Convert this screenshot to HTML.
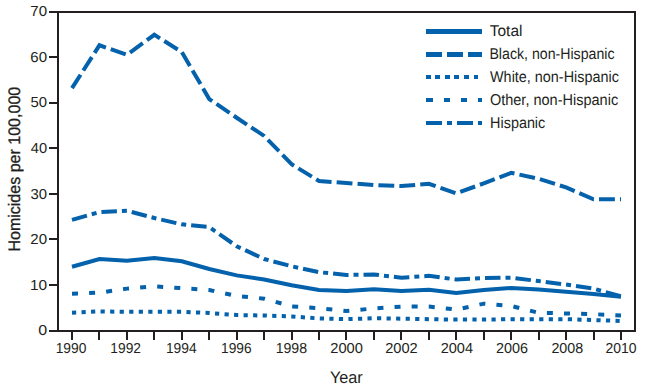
<!DOCTYPE html>
<html><head><meta charset="utf-8"><style>
html,body{margin:0;padding:0;background:#fff;}
svg{display:block;}
text{font-family:"Liberation Sans",sans-serif;fill:#231f20;text-rendering:geometricPrecision;}
</style></head><body>
<svg width="657" height="389" viewBox="0 0 657 389">
<path d="M49,12 H635 V331 H58 V12" fill="none" stroke="#231f20" stroke-width="2"/>
<path d="M49,12 H58" stroke="#231f20" stroke-width="2"/>
<path d="M49,57 H58" stroke="#231f20" stroke-width="2"/>
<path d="M49,103 H58" stroke="#231f20" stroke-width="2"/>
<path d="M49,148 H58" stroke="#231f20" stroke-width="2"/>
<path d="M49,194 H58" stroke="#231f20" stroke-width="2"/>
<path d="M49,239 H58" stroke="#231f20" stroke-width="2"/>
<path d="M49,285 H58" stroke="#231f20" stroke-width="2"/>
<path d="M49,331 H58" stroke="#231f20" stroke-width="2"/>
<path d="M72,331 V340" stroke="#231f20" stroke-width="2"/>
<path d="M99,331 V340" stroke="#231f20" stroke-width="2"/>
<path d="M127,331 V340" stroke="#231f20" stroke-width="2"/>
<path d="M154,331 V340" stroke="#231f20" stroke-width="2"/>
<path d="M182,331 V340" stroke="#231f20" stroke-width="2"/>
<path d="M209,331 V340" stroke="#231f20" stroke-width="2"/>
<path d="M237,331 V340" stroke="#231f20" stroke-width="2"/>
<path d="M264,331 V340" stroke="#231f20" stroke-width="2"/>
<path d="M292,331 V340" stroke="#231f20" stroke-width="2"/>
<path d="M319,331 V340" stroke="#231f20" stroke-width="2"/>
<path d="M346,331 V340" stroke="#231f20" stroke-width="2"/>
<path d="M374,331 V340" stroke="#231f20" stroke-width="2"/>
<path d="M401,331 V340" stroke="#231f20" stroke-width="2"/>
<path d="M429,331 V340" stroke="#231f20" stroke-width="2"/>
<path d="M456,331 V340" stroke="#231f20" stroke-width="2"/>
<path d="M484,331 V340" stroke="#231f20" stroke-width="2"/>
<path d="M511,331 V340" stroke="#231f20" stroke-width="2"/>
<path d="M539,331 V340" stroke="#231f20" stroke-width="2"/>
<path d="M566,331 V340" stroke="#231f20" stroke-width="2"/>
<path d="M594,331 V340" stroke="#231f20" stroke-width="2"/>
<path d="M621,331 V340" stroke="#231f20" stroke-width="2"/>
<polyline points="72.00,88.10 99.45,45.27 126.90,54.84 154.35,34.79 181.80,52.10 209.25,99.04 236.70,117.73 264.15,135.95 291.60,164.21 319.05,181.07 346.50,182.89 373.95,185.17 401.40,186.08 428.85,183.80 456.30,193.37 483.75,183.35 511.20,172.87 538.65,178.79 566.10,187.45 593.55,199.30 621.00,199.30" fill="none" stroke="#0461ab" stroke-width="4.0" stroke-dasharray="15.85 5.1"/>
<polyline points="72.00,219.81 99.45,212.06 126.90,210.69 154.35,217.98 181.80,224.36 209.25,227.10 236.70,246.24 264.15,259.00 291.60,266.29 319.05,272.21 346.50,274.95 373.95,274.49 401.40,277.68 428.85,275.86 456.30,279.50 483.75,278.14 511.20,277.68 538.65,281.10 566.10,284.52 593.55,288.62 621.00,296.37" fill="none" stroke="#0461ab" stroke-width="4.0" stroke-dasharray="15.5 5 5 5"/>
<polyline points="72.00,266.74 99.45,259.00 126.90,260.82 154.35,258.09 181.80,261.28 209.25,269.02 236.70,275.40 264.15,279.50 291.60,285.20 319.05,289.99 346.50,291.12 373.95,289.30 401.40,291.12 428.85,289.76 456.30,292.95 483.75,289.99 511.20,287.94 538.65,289.53 566.10,291.81 593.55,294.09 621.00,296.82" fill="none" stroke="#0461ab" stroke-width="4.0"/>
<polyline points="72.00,293.63 99.45,292.72 126.90,288.62 154.35,286.34 181.80,288.16 209.25,289.99 236.70,295.91 264.15,298.64 291.60,306.39 319.05,308.21 346.50,310.95 373.95,308.44 401.40,306.62 428.85,306.62 456.30,309.58 483.75,303.66 511.20,305.94 538.65,312.77 566.10,313.45 593.55,314.14 621.00,315.51" fill="none" stroke="#0461ab" stroke-width="4.0" stroke-dasharray="6 11.12"/>
<polyline points="72.00,312.77 99.45,311.40 126.90,311.86 154.35,311.86 181.80,311.86 209.25,313.00 236.70,315.05 264.15,315.51 291.60,316.42 319.05,318.47 346.50,319.15 373.95,318.24 401.40,318.70 428.85,319.15 456.30,319.61 483.75,319.61 511.20,319.15 538.65,319.15 566.10,319.15 593.55,320.06 621.00,320.97" fill="none" stroke="#0461ab" stroke-width="4.0" stroke-dasharray="4.2 5.34"/>
<path d="M426,29h56v5h-56z" fill="#0461ab" shape-rendering="crispEdges"/>
<path d="M426,52h16v5h-16zM447,52h16v5h-16zM468,52h14v5h-14z" fill="#0461ab" shape-rendering="crispEdges"/>
<path d="M426,75h5v4h-5zM435,75h5v4h-5zM445,75h5v4h-5zM454,75h5v4h-5zM464,75h5v4h-5zM474,75h4v4h-4z" fill="#0461ab" shape-rendering="crispEdges"/>
<path d="M426,98h7v4h-7zM444,98h6v4h-6zM461,98h6v4h-6zM478,98h4v4h-4z" fill="#0461ab" shape-rendering="crispEdges"/>
<path d="M426,121h16v4h-16zM447,121h5v4h-5zM457,121h16v4h-16zM478,121h4v4h-4z" fill="#0461ab" shape-rendering="crispEdges"/>
<text x="489.77" y="35.80" font-size="15.6" textLength="32.71" lengthAdjust="spacingAndGlyphs">Total</text>
<text x="489.44" y="58.80" font-size="15.6" textLength="125.03" lengthAdjust="spacingAndGlyphs">Black, non-Hispanic</text>
<text x="490.04" y="82.00" font-size="15.6" textLength="128.84" lengthAdjust="spacingAndGlyphs">White, non-Hispanic</text>
<text x="489.92" y="105.00" font-size="15.6" textLength="128.26" lengthAdjust="spacingAndGlyphs">Other, non-Hispanic</text>
<text x="490.12" y="128.00" font-size="15.6" textLength="55.16" lengthAdjust="spacingAndGlyphs">Hispanic</text>
<text x="30.33" y="16.00" font-size="14.5" textLength="16.76" lengthAdjust="spacingAndGlyphs">70</text>
<text x="30.34" y="62.00" font-size="14.5" textLength="16.75" lengthAdjust="spacingAndGlyphs">60</text>
<text x="30.50" y="107.00" font-size="14.5" textLength="16.58" lengthAdjust="spacingAndGlyphs">50</text>
<text x="30.76" y="153.00" font-size="14.5" textLength="16.31" lengthAdjust="spacingAndGlyphs">40</text>
<text x="30.53" y="199.00" font-size="14.5" textLength="16.55" lengthAdjust="spacingAndGlyphs">30</text>
<text x="30.34" y="244.00" font-size="14.5" textLength="16.75" lengthAdjust="spacingAndGlyphs">20</text>
<text x="29.92" y="290.00" font-size="14.5" textLength="17.18" lengthAdjust="spacingAndGlyphs">10</text>
<text x="38.17" y="335.00" font-size="14.5" textLength="8.96" lengthAdjust="spacingAndGlyphs">0</text>
<text x="55.65" y="352.90" font-size="14.5" textLength="30.69" lengthAdjust="spacingAndGlyphs">1990</text>
<text x="110.35" y="352.90" font-size="14.5" textLength="30.64" lengthAdjust="spacingAndGlyphs">1992</text>
<text x="165.95" y="352.90" font-size="14.5" textLength="30.65" lengthAdjust="spacingAndGlyphs">1994</text>
<text x="221.05" y="352.90" font-size="14.5" textLength="30.55" lengthAdjust="spacingAndGlyphs">1996</text>
<text x="275.63" y="352.90" font-size="14.5" textLength="31.39" lengthAdjust="spacingAndGlyphs">1998</text>
<text x="330.26" y="352.90" font-size="14.5" textLength="32.61" lengthAdjust="spacingAndGlyphs">2000</text>
<text x="385.16" y="352.90" font-size="14.5" textLength="32.57" lengthAdjust="spacingAndGlyphs">2002</text>
<text x="440.67" y="352.90" font-size="14.5" textLength="32.36" lengthAdjust="spacingAndGlyphs">2004</text>
<text x="495.98" y="352.90" font-size="14.5" textLength="32.06" lengthAdjust="spacingAndGlyphs">2006</text>
<text x="551.38" y="352.90" font-size="14.5" textLength="31.74" lengthAdjust="spacingAndGlyphs">2008</text>
<text x="605.50" y="352.90" font-size="14.5" textLength="31.05" lengthAdjust="spacingAndGlyphs">2010</text>
<text x="329.96" y="382.70" font-size="16.7" textLength="32.80" lengthAdjust="spacingAndGlyphs">Year</text>
<text transform="translate(19.8,251.61) rotate(-90)" x="0" y="0" font-size="16.7" textLength="164.84" lengthAdjust="spacingAndGlyphs" style="stroke:#231f20;stroke-width:0.3px">Homicides per 100,000</text>
</svg>
</body></html>
